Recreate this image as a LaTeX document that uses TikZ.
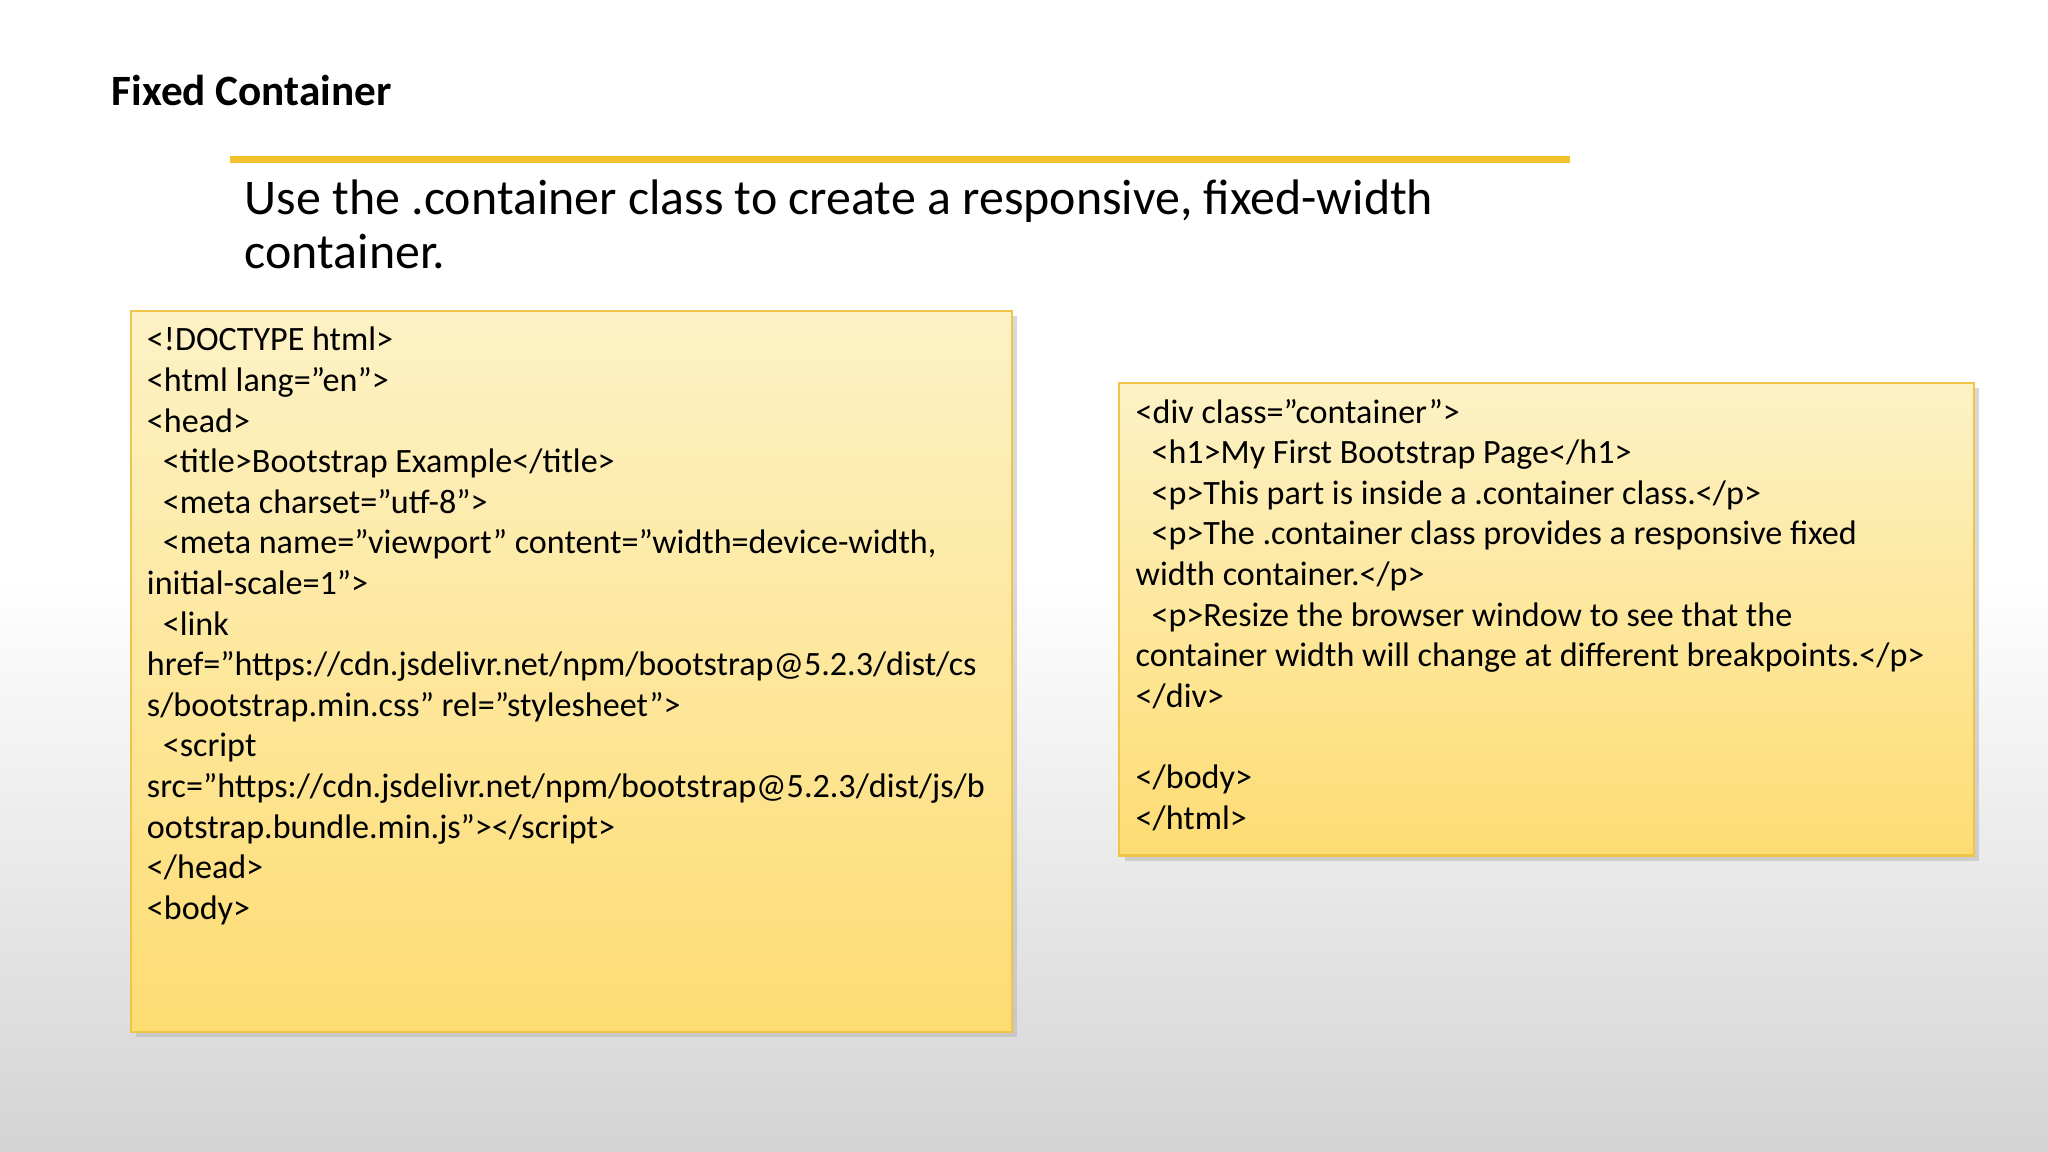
\documentclass[tikz,border=0pt]{standalone}
\usepackage{fontspec}
\setmainfont{Carlito}
\usetikzlibrary{positioning}
\definecolor{gold}{HTML}{F2C12E}
\definecolor{boxtop}{HTML}{FDF2C6}
\definecolor{boxbot}{HTML}{FDDC72}
\definecolor{boxline}{HTML}{F0C448}
\newcommand{\q}{\char34\relax}
\newcommand{\ind}{\hspace*{4.5pt}}
\begin{document}
\begin{tikzpicture}[x=0.0130612cm,y=-0.0130612cm]
\tikzset{
  codebox/.style={draw=boxline,line width=0.6pt,top color=boxtop,bottom color=boxbot},
  shade box/.style={fill=black!30,opacity=0.5},
  code/.style={anchor=north west,inner sep=0pt,align=left,font=\fontsize{9.7}{11.55}\selectfont},
}
% background
\shade[top color=white,bottom color=black!17,middle color=white] (0,0) rectangle (1568,882);
\useasboundingbox (0,0) rectangle (1568,882);
% title
\node[anchor=west,inner sep=0pt,font=\fontsize{12.3}{14}\selectfont\bfseries] (title) at (85,69) {Fixed Container};
\draw[gold,line width=2pt] (176,122) -- (1202,122);
\node[anchor=north west,inner sep=0pt,align=left,font=\fontsize{14.2}{15.5}\selectfont] (lead) at (187,137)
  {Use the .container class to create a responsive, fixed-width\\container.};
% left box
\fill[shade box] (104,242) rectangle (779,794);
\path[codebox] (100,238) rectangle (775,790);
\node[code] (headcode) at (112,250) {%
<!DOCTYPE html>\\
<html lang=\q en\q>\\
<head>\\
\ind<title>Bootstrap Example</title>\\
\ind<meta charset=\q utf-8\q>\\
\ind<meta name=\q viewport\q{} content=\q width=device-width,\\
initial-scale=1\q>\\
\ind<link\\
href=\q https://cdn.jsdelivr.net/npm/bootstrap@5.2.3/dist/cs\\
s/bootstrap.min.css\q{} rel=\q stylesheet\q>\\
\ind<script\\
src=\q https://cdn.jsdelivr.net/npm/bootstrap@5.2.3/dist/js/b\\
ootstrap.bundle.min.js\q></script>\\
</head>\\
<body>};
% right box
\fill[shade box] (861,297) rectangle (1515,659);
\path[codebox] (857,293) rectangle (1511,655);
\node[code] (bodycode) at (869,305) {%
<div class=\q container\q>\\
\ind<h1>My First Bootstrap Page</h1>\\
\ind<p>This part is inside a .container class.</p>\\
\ind<p>The .container class provides a responsive fixed\\
width container.</p>\\
\ind<p>Resize the browser window to see that the\\
container width will change at different breakpoints.</p>\\
</div>\\
\mbox{}\\
</body>\\
</html>};
\end{tikzpicture}
\end{document}
